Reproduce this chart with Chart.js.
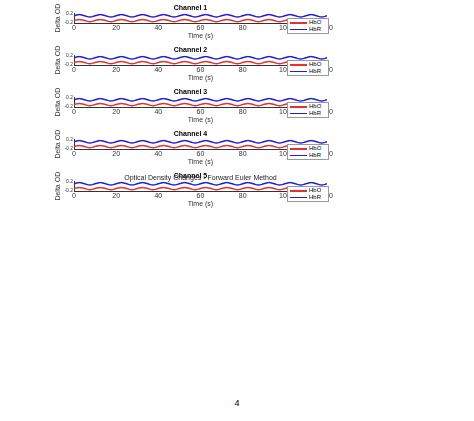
<!DOCTYPE html>
<html>
<head>
<meta charset="utf-8">
<script src="https://cdn.jsdelivr.net/npm/chart.js@4"></script>
<style>
  body { margin: 0; background: #fff; color: #000; font-family: "Liberation Sans", Arial, sans-serif; }
  .wrap { position: absolute; left: 0; width: 474px; height: 38px; }
  .legend { position: absolute; left: 287px; width: 40px; height: 14px; background: #fff; border: 1px solid #999;
            font-size: 6px; line-height: 6.5px; color: #000; }
  .legend div { padding-left: 21px; position: relative; }
  .legend span { position: absolute; left: 2px; top: 3px; width: 17px; height: 1.5px; }
  .sub { position: absolute; left: 74px; width: 253px; text-align: center; font-size: 7px; top: 174px; color: #222; }
  .page { position: absolute; top: 398px; width: 474px; text-align: center; font-size: 9px; color: #000; }
</style>
</head>
<body>
<div id="plots"></div>
<div class="sub">Optical Density Changes - Forward Euler Method</div>
<div class="page">4</div>
<script>
const channels = ['Channel 1', 'Channel 2', 'Channel 3', 'Channel 4', 'Channel 5'];
const times = [0,2.5,5,7.5,10,12.5,15,17.5,20,22.5,25,27.5,30,32.5,35,37.5,40,42.5,45,47.5,50,52.5,55,57.5,60,
               62.5,65,67.5,70,72.5,75,77.5,80,82.5,85,87.5,90,92.5,95,97.5,100,102.5,105,107.5,110,112.5,115,117.5,120];
const hbo = [-0.1,-0.05,-0.1,-0.15,-0.1,-0.05,-0.1,-0.15,-0.1,-0.05,-0.1,-0.15,-0.1,-0.05,-0.1,-0.15,-0.1,-0.05,-0.1,-0.15,
             -0.1,-0.05,-0.1,-0.15,-0.1,-0.05,-0.1,-0.15,-0.1,-0.05,-0.1,-0.15,-0.1,-0.05,-0.1,-0.15,-0.1,-0.05,-0.1,-0.15,
             -0.1,-0.05,-0.1,-0.15,-0.1,-0.05,-0.1,-0.15,-0.1];
const hbr = [0.1,0.15,0.1,0.05,0.1,0.15,0.1,0.05,0.1,0.15,0.1,0.05,0.1,0.15,0.1,0.05,0.1,0.15,0.1,0.05,
             0.1,0.15,0.1,0.05,0.1,0.15,0.1,0.05,0.1,0.15,0.1,0.05,0.1,0.15,0.1,0.05,0.1,0.15,0.1,0.05,
             0.1,0.15,0.1,0.05,0.1,0.15,0.1,0.05,0.1];
const xTicks = [0, 20, 40, 60, 80, 100, 120];
const yTicks = [-0.2, 0, 0.2];

const plots = document.getElementById('plots');
channels.forEach(function (name, i) {
    const top = 2 + 42 * i;
    const wrap = document.createElement('div');
    wrap.className = 'wrap';
    wrap.style.top = top + 'px';
    wrap.innerHTML = '<canvas width="474" height="38"></canvas>';
    plots.appendChild(wrap);

    const leg = document.createElement('div');
    leg.className = 'legend';
    leg.style.top = (top + 16) + 'px';
    leg.innerHTML = '<div><span style="background:#e8312d"></span>HbO</div><div><span style="background:#1f1fd6"></span>HbR</div>';
    plots.appendChild(leg);

    new Chart(wrap.querySelector('canvas'), {
        type: 'line',
        data: {
            datasets: [
                { label: 'HbO', data: times.map((t, k) => ({ x: t, y: hbo[k] })), borderColor: '#e8312d', borderWidth: 1.5, pointRadius: 0, tension: 0.4 },
                { label: 'HbR', data: times.map((t, k) => ({ x: t, y: hbr[k] })), borderColor: '#1f1fd6', borderWidth: 1.5, pointRadius: 0, tension: 0.4 }
            ]
        },
        options: {
            responsive: false,
            animation: false,
            layout: { padding: { left: 54, right: 147, top: 0, bottom: 0 } },
            plugins: {
                legend: { display: false },
                tooltip: { enabled: false },
                title: { display: true, text: name, font: { size: 7, weight: 'bold' }, color: '#000', padding: { top: 2, bottom: 1 } }
            },
            scales: {
                x: {
                    type: 'linear', min: 0, max: 120,
                    afterBuildTicks: a => { a.ticks = xTicks.map(v => ({ value: v })); },
                    afterFit: a => { a.height = 17; },
                    ticks: { font: { size: 7 }, color: '#333', padding: 1, maxRotation: 0 },
                    grid: { display: false, drawTicks: false },
                    border: { color: '#333' },
                    title: { display: true, text: 'Time (s)', font: { size: 7 }, color: '#333', padding: 0 }
                },
                y: {
                    min: -0.2, max: 0.2,
                    afterBuildTicks: a => { a.ticks = yTicks.map(v => ({ value: v })); },
                    afterFit: a => { a.width = 20; },
                    ticks: { font: { size: 5 }, color: '#333', padding: 1 },
                    grid: { display: false, drawTicks: false },
                    border: { color: '#333' },
                    title: { display: true, text: 'Delta OD', font: { size: 7 }, color: '#333', padding: 0 }
                }
            }
        }
    });
});
</script>
</body>
</html>
